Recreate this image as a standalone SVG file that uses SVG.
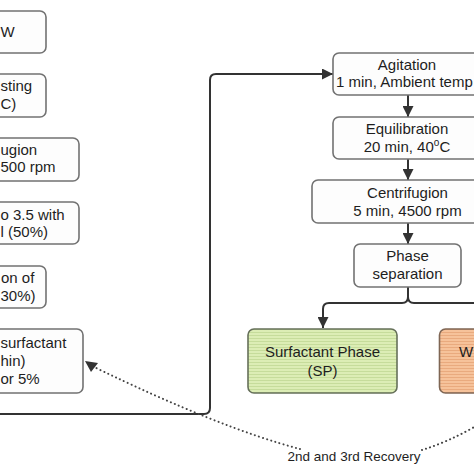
<svg xmlns="http://www.w3.org/2000/svg" width="474" height="474" viewBox="0 0 474 474">
<defs>
<style>
.box{fill:#fdfdfd;stroke:#727272;stroke-width:1.6}
.t{font-family:"Liberation Sans",Arial,sans-serif;font-size:15px;fill:#1e1e1e}
.c{text-anchor:middle}
.e{text-anchor:end}
.ln{fill:none;stroke:#333;stroke-width:2}
.dot{fill:none;stroke:#444;stroke-width:2;stroke-dasharray:0.1 4.2;stroke-linecap:round}
</style>
<marker id="ah" viewBox="0 0 10 10" refX="10" refY="5" markerWidth="5.5" markerHeight="5.5" orient="auto" markerUnits="strokeWidth">
<path d="M0,0 L10,5 L0,10 z" fill="#333"/>
</marker>
<pattern id="pg" width="4" height="3" patternUnits="userSpaceOnUse">
<rect width="4" height="3" fill="#dcedb5"/>
<rect y="2" width="4" height="1" fill="#c6dc9b"/>
</pattern>
<pattern id="po" width="4" height="3" patternUnits="userSpaceOnUse">
<rect width="4" height="3" fill="#f6c29a"/>
<rect y="2" width="4" height="1" fill="#e9aa7e"/>
</pattern>
</defs>
<rect width="474" height="474" fill="#fff"/>

<g id="connectors">
<path class="ln" d="M-5,414 H204 Q210,414 210,408 V80 Q210,74 216,74 H333" marker-end="url(#ah)"/>
<path class="ln" d="M408,95 V117" marker-end="url(#ah)"/>
<path class="ln" d="M408,159 V180" marker-end="url(#ah)"/>
<path class="ln" d="M408,223 V244" marker-end="url(#ah)"/>
<path class="ln" d="M408,287 V297 Q408,303 402,303 H329 Q323,303 323,309 V328" marker-end="url(#ah)"/>
<path class="ln" d="M408,297 Q408,303 414,303 H480"/>
<path class="dot" d="M300,449 Q220,428 92,366"/>
<path d="M85,361 L98,363 L91,372 z" fill="#333"/>
<path class="dot" d="M422,450 Q448,442 476,426"/>
</g>

<g id="n1"><rect class="box" x="-20" y="11" width="66" height="42" rx="6"/><text class="t" x="0.5" y="37">W</text></g>
<g id="n2"><rect class="box" x="-20" y="74" width="66" height="43" rx="6"/><text class="t" x="0.5" y="91">sting</text><text class="t" x="0.5" y="109">C)</text></g>
<g id="n3"><rect class="box" x="-20" y="138" width="99" height="43" rx="6"/><text class="t" x="0.5" y="155">ugion</text><text class="t" x="0.5" y="172">500 rpm</text></g>
<g id="n4"><rect class="box" x="-20" y="202" width="99" height="42" rx="6"/><text class="t" x="0.5" y="220">o 3.5 with</text><text class="t" x="0.5" y="237">l (50%)</text></g>
<g id="n5"><rect class="box" x="-20" y="266" width="66" height="42" rx="6"/><text class="t" x="1" y="283">on of</text><text class="t" x="0.5" y="301">30%)</text></g>
<g id="n6"><rect class="box" x="-20" y="329" width="103" height="64" rx="6"/><text class="t" x="0.5" y="348">surfactant</text><text class="t" x="0.5" y="366">hin)</text><text class="t" x="0.5" y="384">or 5%</text></g>

<g id="agitation"><rect class="box" x="333" y="53" width="160" height="42" rx="6"/><text class="t c" x="407" y="70">Agitation</text><text class="t" x="336" y="87">1 min, Ambient temp</text></g>
<g id="equilibration"><rect class="box" x="333" y="117" width="160" height="42" rx="6"/><text class="t c" x="407" y="134">Equilibration</text><text class="t c" x="407" y="152">20 min, 40<tspan font-size="10" dy="-6">o</tspan><tspan dy="6">C</tspan></text></g>
<g id="centrifugion"><rect class="box" x="312" y="180" width="180" height="43" rx="6"/><text class="t c" x="407.5" y="198">Centrifugion</text><text class="t c" x="407.5" y="216">5 min, 4500 rpm</text></g>
<g id="phase"><rect class="box" x="354" y="244" width="107" height="43" rx="6"/><text class="t c" x="407.5" y="261">Phase</text><text class="t c" x="407.5" y="279">separation</text></g>
<g id="sp"><rect x="248" y="329" width="149" height="64" rx="6" fill="url(#pg)" stroke="#66705a" stroke-width="1.6"/><text class="t c" x="322.5" y="357">Surfactant Phase</text><text class="t c" x="322.5" y="376">(SP)</text></g>
<g id="wp"><rect x="439.5" y="329" width="60" height="64" rx="6" fill="url(#po)" stroke="#7f6654" stroke-width="1.6"/><text class="t" x="459" y="357">W</text></g>

<text class="t c" x="354" y="461" style="font-size:13.5px">2nd and 3rd Recovery</text>
</svg>
